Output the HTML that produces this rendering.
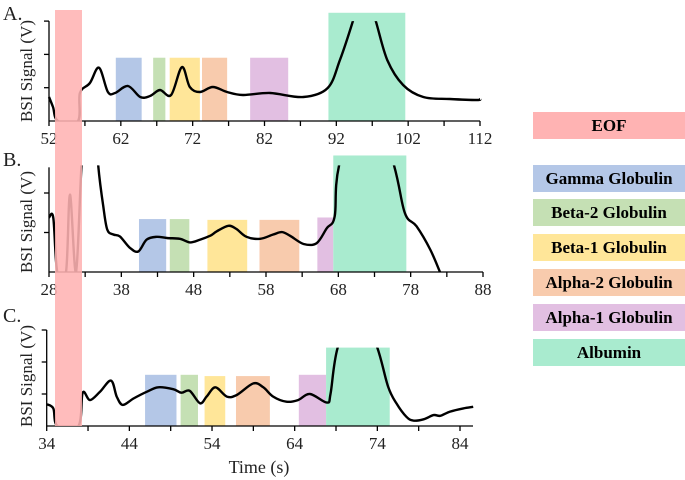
<!DOCTYPE html>
<html><head><meta charset="utf-8"><style>
body{margin:0;background:#fff;}
svg{display:block;font-family:"Liberation Serif",serif;}
.lg{font-family:"Liberation Serif",serif;font-weight:bold;font-size:17px;}
</style></head><body>
<svg id="chart" width="685" height="480" viewBox="0 0 685 480"></svg>
<script>
// ---- Data ----
const bandNames = ["Gamma Globulin","Beta-2 Globulin","Beta-1 Globulin","Alpha-2 Globulin","Alpha-1 Globulin","Albumin"];
const bandColors = ["#b4c7e7","#c5e0b4","#ffe699","#f8cbad","#e2bfe2","#a9ebcf"];
const eofColor = "#ffb3b3";

const aTicks = [52,62,72,82,92,102,112];
const aBandStart = [61.3,66.5,68.8,73.3,80.0,90.9];
const aBandEnd   = [64.9,68.2,73.0,76.8,85.3,101.6];
const aBandTop   = [1.9,1.9,1.9,1.9,1.9,3.25];
const aTime = [52,52.56,53.25,56.04,56.3,57.7,58.96,60.2,61.2,63.0,64.7,66.06,67.45,69.0,70.5,71.6,73.0,74.8,76.8,79.0,82.8,87.4,90.8,92.5,94.3,95.9,97.5,99.1,101.3,104.1,107.8,111.6,112];
const aVal  = [0.72,0.42,0,0,0.84,1.14,1.6,0.87,0.84,1.05,0.72,0.75,0.93,0.78,1.62,1.02,0.87,1.02,0.87,0.78,0.84,0.72,0.99,1.83,3.0,4.2,3.0,1.83,1.08,0.72,0.66,0.63,0.66];

const bTicks = [28,38,48,58,68,78,88];
const bBandStart = [40.44,44.7,49.9,57.1,65.1,67.3];
const bBandEnd   = [44.2,47.4,55.4,62.6,67.3,77.4];
const bBandTop   = [1.34,1.34,1.32,1.32,1.38,2.95];
const bTime = [28,28.6,29.15,30.35,30.9,31.73,32.5,33.2,34.3,34.8,35.5,36.06,36.9,37.8,39.2,40.35,41.5,42.9,44.3,46.1,47.5,48.9,50.3,51.2,52.8,53.9,55.3,57.2,59.0,60.2,61.3,63.2,65.0,66.4,67.5,68.1,71.9,75.7,77.2,78.8,80.7,82.05];
const bVal  = [1.38,1.37,0,0,1.96,0,2.7,4,4,2.7,1.66,1.07,0.95,0.9,0.61,0.52,0.82,0.89,0.86,0.84,0.75,0.82,0.92,1.03,1.17,1.09,0.89,0.84,0.95,1.01,0.92,0.71,0.73,1.11,1.41,2.7,5,2.7,1.49,1.16,0.57,0];

const cTicks = [34,44,54,64,74,84];
const cBandStart = [45.9,50.2,53.1,56.9,64.5,67.8];
const cBandEnd   = [49.7,52.3,55.6,61.0,67.8,75.5];
const cBandTop   = [1.6,1.6,1.56,1.56,1.6,2.45];
const cTime = [34,34.8,35.3,37.83,38.35,39.24,40.45,41.78,42.47,43.2,44.5,46.1,47.5,49.3,50.3,51.3,52.55,53.35,54.4,55.8,57.0,59.0,60.2,61.4,63.0,64.4,65.85,67.9,68.35,69.2,71.6,74.0,75.3,76.3,77.5,78.35,79.6,80.8,81.6,82.8,84.4,85.6];
const cVal  = [0.68,0.55,0,0,1.04,0.81,1.07,1.42,0.92,0.66,0.86,1.07,1.21,1.15,1.04,1.1,0.71,0.92,1.21,0.92,0.97,1.33,1.21,0.92,0.76,0.81,1.0,0.73,1.02,2.45,4,2.45,1.23,0.71,0.29,0.17,0.21,0.34,0.32,0.45,0.55,0.6];

const NS="http://www.w3.org/2000/svg";
const svg=document.getElementById('chart');
function mk(tag,attrs,parent){const e=document.createElementNS(NS,tag);for(const k in attrs)e.setAttribute(k,attrs[k]);(parent||svg).appendChild(e);return e;}
function smooth(pts){
  let d='M'+pts[0][0].toFixed(1)+','+pts[0][1].toFixed(1);
  for(let i=0;i<pts.length-1;i++){
    const p0=pts[Math.max(0,i-1)],p1=pts[i],p2=pts[i+1],p3=pts[Math.min(pts.length-1,i+2)];
    const k=1/6;
    const c1=[p1[0]+(p2[0]-p0[0])*k,p1[1]+(p2[1]-p0[1])*k];
    const c2=[p2[0]-(p3[0]-p1[0])*k,p2[1]-(p3[1]-p1[1])*k];
    d+='C'+c1[0].toFixed(1)+','+c1[1].toFixed(1)+' '+c2[0].toFixed(1)+','+c2[1].toFixed(1)+' '+p2[0].toFixed(1)+','+p2[1].toFixed(1);
  }
  return d;
}

const panels=[
 {id:'a',label:'A.',ticks:aTicks,bs:aBandStart,be:aBandEnd,bt:aBandTop,t:aTime,v:aVal,x0:49,x1:480,axisY:121,unit:33.3,ymax:3,clipTop:3,xEnd:480,ly:20},
 {id:'b',label:'B.',ticks:bTicks,bs:bBandStart,be:bBandEnd,bt:bBandTop,t:bTime,v:bVal,x0:49,x1:483,axisY:272,unit:39.5,ymax:2.65,clipTop:2.7,xEnd:483,ly:166},
 {id:'c',label:'C.',ticks:cTicks,bs:cBandStart,be:cBandEnd,bt:cBandTop,t:cTime,v:cVal,x0:46.7,x1:460,axisY:426,unit:32,ymax:3,clipTop:2.45,xEnd:473,ly:322}
];

panels.forEach(p=>{
  const tMin=p.ticks[0],tMax=p.ticks[p.ticks.length-1];
  const xs=t=>p.x0+(t-tMin)*(p.x1-p.x0)/(tMax-tMin);
  const ys=v=>p.axisY-v*p.unit;
  const g=mk('g',{});
  
  
  for(let i=0;i<p.bs.length;i++){
    const r=mk('rect',{x:xs(p.bs[i]),y:ys(p.bt[i]),width:xs(p.be[i])-xs(p.bs[i]),height:p.axisY-ys(p.bt[i]),fill:bandColors[i]},g);
    
    
  }
  const cp=mk('clipPath',{id:'clip-'+p.id},g);
  mk('rect',{x:p.x0-2,y:ys(p.clipTop),width:p.xEnd-p.x0+4,height:p.axisY-ys(p.clipTop)},cp);
  const pts=p.t.map((t,i)=>[xs(t),ys(p.v[i])]);
  const path=mk('path',{d:smooth(pts),fill:'none',stroke:'#000','stroke-width':2.4,'stroke-linejoin':'round','clip-path':'url(#clip-'+p.id+')'},g);
  
  
  const ax=mk('g',{stroke:'#000','stroke-width':1.3},g);
  
  
  mk('line',{x1:p.x0,y1:p.axisY,x2:p.xEnd,y2:p.axisY},ax);
  mk('line',{x1:p.x0,y1:p.axisY,x2:p.x0,y2:ys(p.ymax)},ax);
  for(let k=1;k<=Math.floor(p.ymax);k++)mk('line',{x1:p.x0-5,y1:ys(k),x2:p.x0,y2:ys(k)},ax);
  for(let t=tMin;t<=tMax+0.01;t+=5)mk('line',{x1:xs(t),y1:p.axisY,x2:xs(t),y2:p.axisY+5},ax);
  p.ticks.forEach(t=>{
    const tx=mk('text',{x:xs(t),y:p.axisY+23,'text-anchor':'middle','font-size':17,fill:'#222'},g);
    tx.textContent=t;
    
    
  });
  const yl=mk('text',{x:0,y:0,'text-anchor':'middle','font-size':17,fill:'#222',transform:`translate(32,${p.axisY-50}) rotate(-90)`},g);
  yl.textContent='BSI Signal (V)';
  
  
  const pl=mk('text',{x:3,y:p.ly,'font-size':20,fill:'#222'},g);
  pl.textContent=p.label;
  
  
});
const eof=mk('rect',{x:55,y:10,width:27,height:416,fill:eofColor,opacity:0.88});


const xt=mk('text',{x:259,y:473,'text-anchor':'middle','font-size':18,fill:'#222'});
xt.textContent='Time (s)';


const lgNames=['EOF'].concat(bandNames);
const lgColors=[eofColor].concat(bandColors);
const lgY=[112,165,199,234,269,304,339];
for(let i=0;i<lgNames.length;i++){
  const g=mk('g',{});
  
  
  mk('rect',{x:533,y:lgY[i],width:152,height:27,fill:lgColors[i]},g);
  const t=mk('text',{x:609,y:lgY[i]+19,'text-anchor':'middle',class:'lg',fill:'#000'},g);
  t.textContent=lgNames[i];
}
</script>
</body></html>
